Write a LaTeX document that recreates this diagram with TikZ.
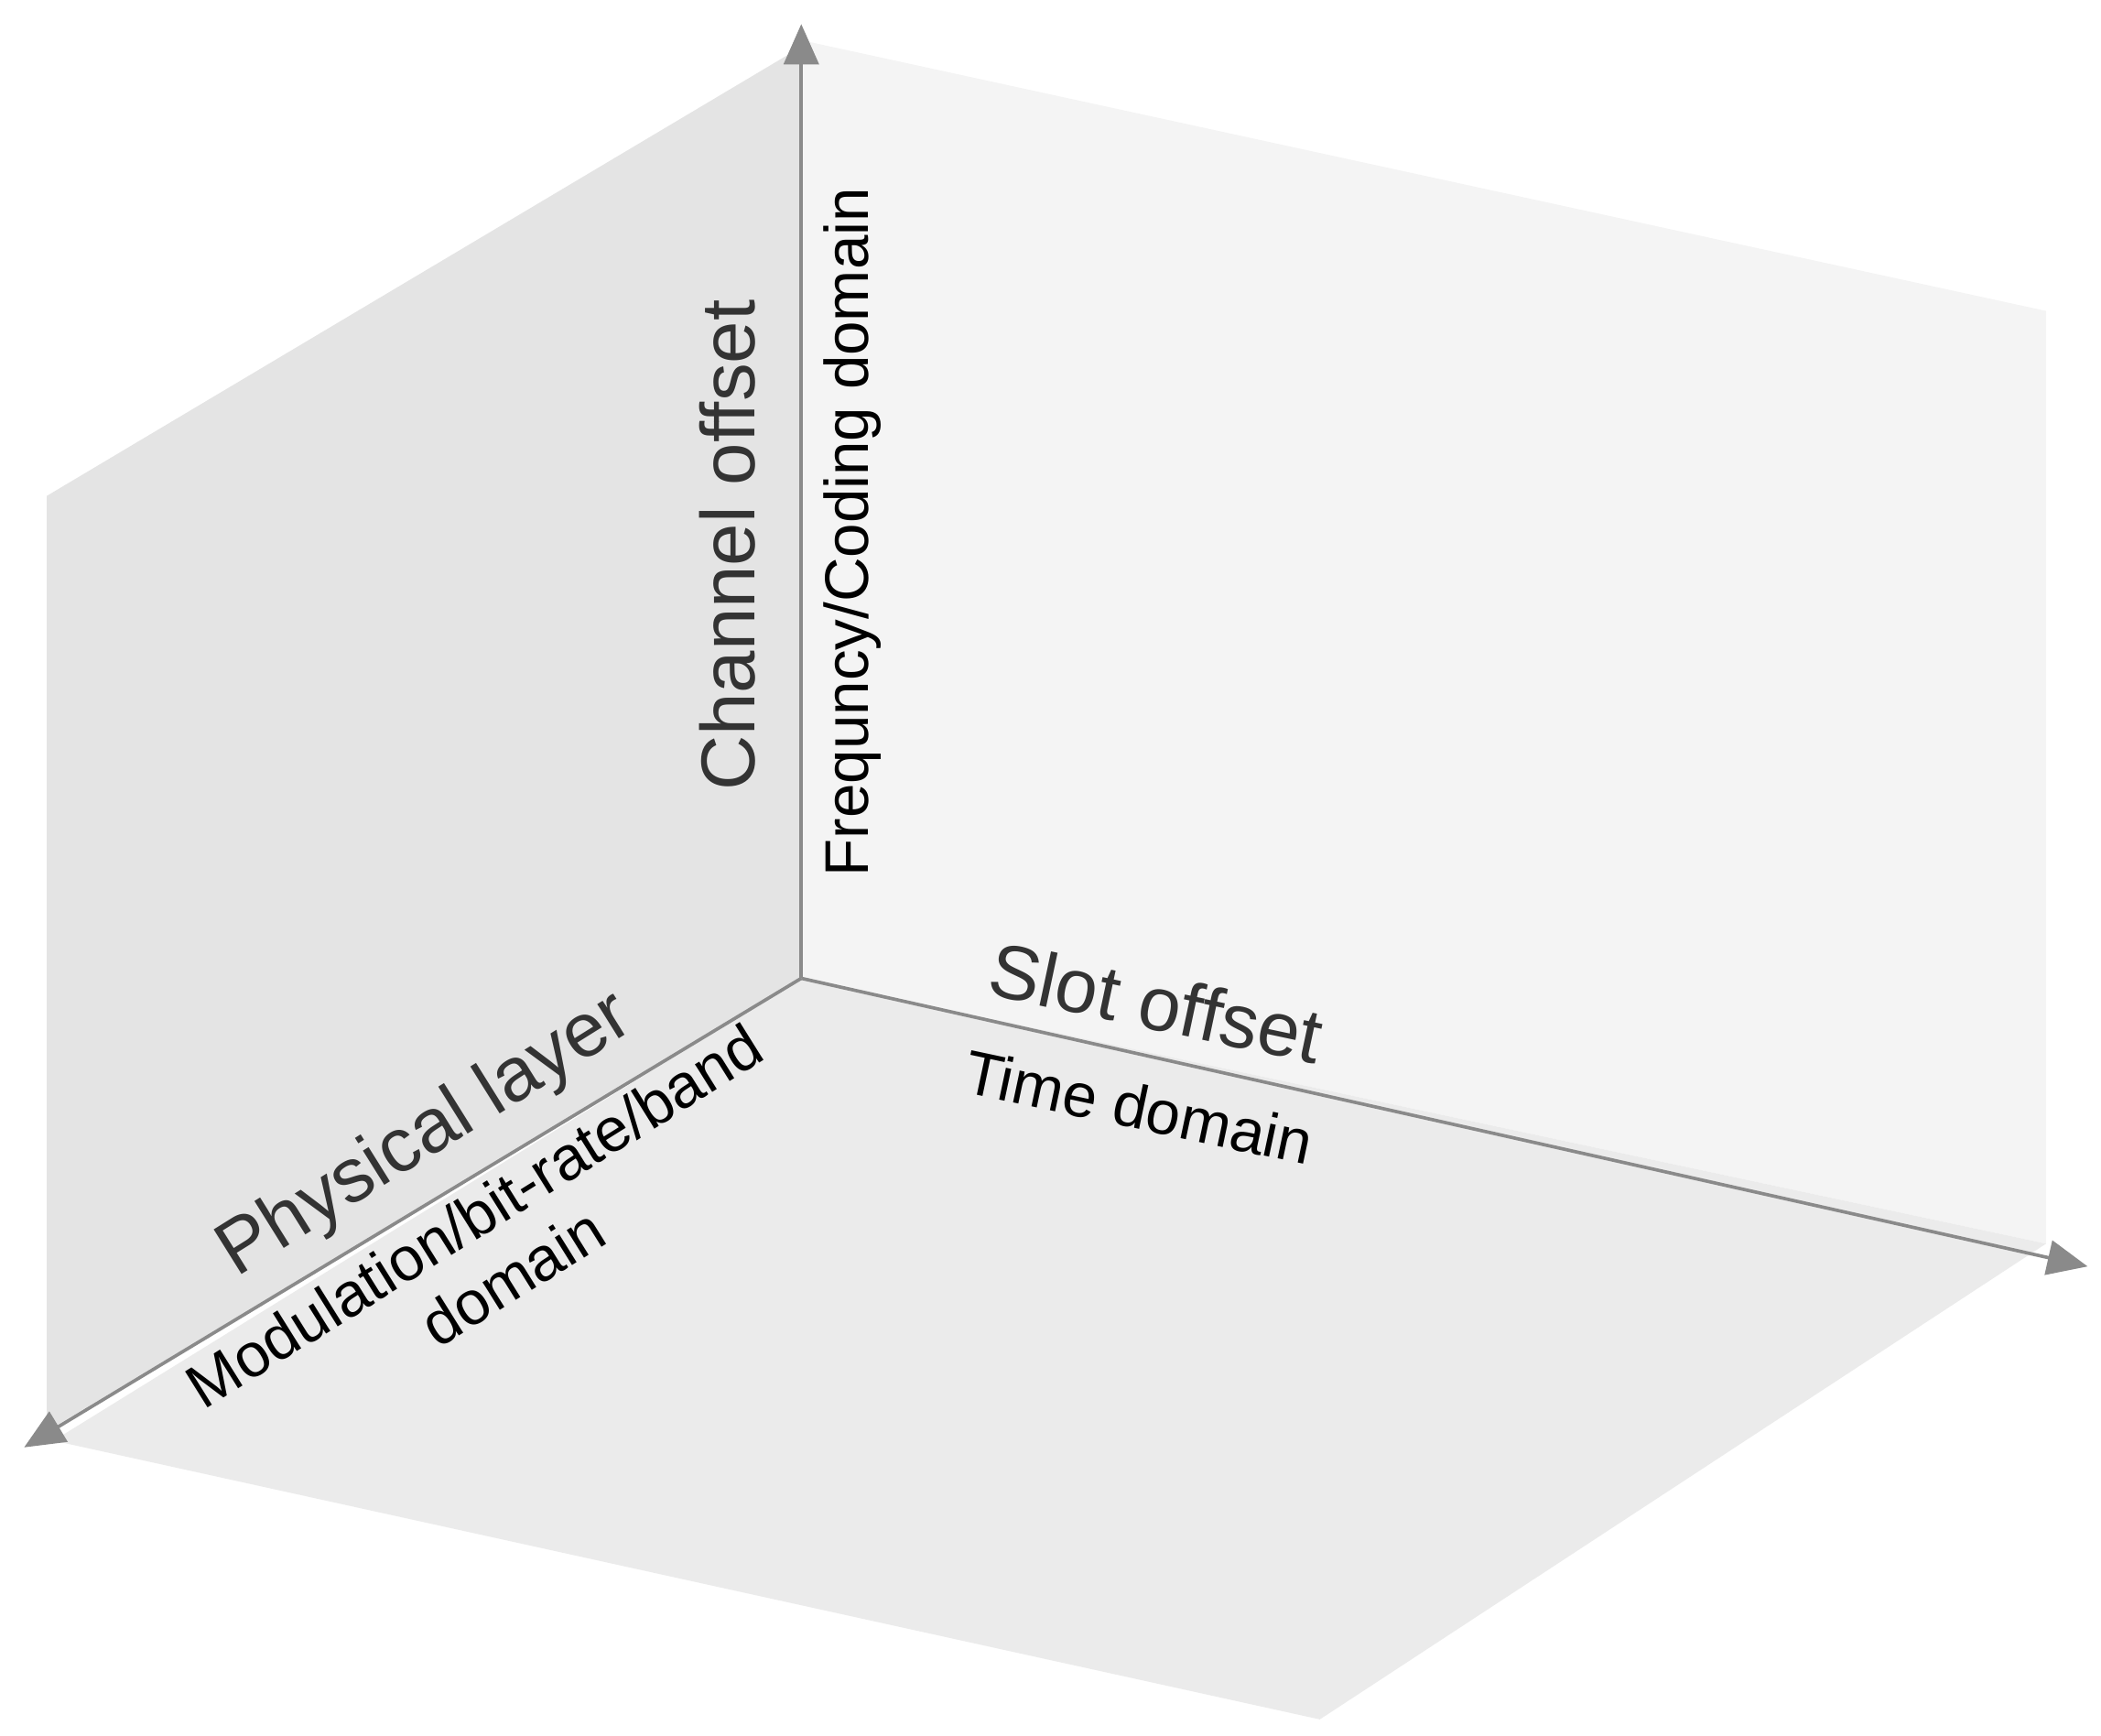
\documentclass[tikz,border=0pt]{standalone}
\usepackage{fontspec}
\setmainfont{Liberation Sans}
\usetikzlibrary{arrows.meta}
\definecolor{wallL}{HTML}{E4E4E4}
\definecolor{wallB}{HTML}{F4F4F4}
\definecolor{floorC}{HTML}{EBEBEB}
\definecolor{axisC}{HTML}{8A8A8A}

\begin{document}
\begin{tikzpicture}[x=1pt,y=-1pt,
                    axis/.style={draw=axisC,line width=2.5pt,-{Triangle[length=30pt,width=26pt]}},
                    big/.style={font=\fontsize{57}{64}\selectfont,text=black!80,inner sep=1pt},
                    small/.style={font=\fontsize{46}{54}\selectfont,align=center,inner sep=1pt}]
  \useasboundingbox (0,0) rectangle (1568,1295);
  \coordinate (O) at (598,730);
  \coordinate (T) at (598,18);
  \coordinate (R) at (1558,945);
  \coordinate (L) at (18,1080);

  % faces
  \fill[wallL]  (O) -- (598,35) -- (35,370) -- (35,1068) -- cycle;
  \fill[wallB]  (O) -- (598,30) -- (1527,232) -- (1527,928) -- cycle;
  \fill[floorC] (O) -- (1527,928) -- (985,1283) -- (40,1075) -- cycle;

  % axes
  \draw[axis] (O) -- (T);
  \draw[axis] (O) -- (R);
  \draw[axis] (O) -- (L);

  % labels
  \node[big,rotate=90]    (ch)   at (543,407) {Channel offset};
  \node[small,rotate=90]  (freq) at (636,397) {Frequncy/Coding domain};
  \node[big,rotate=-12]   (slot) at (863,748) {Slot offset};
  \node[small,rotate=-12] (time) at (850,826) {Time domain};
  \node[big,rotate=32]    (phy)  at (318,848) {Physical layer};
  \node[small,rotate=32]  (mod)  at (368,930) {Modulation/bit-rate/band\\domain};
\end{tikzpicture}
\end{document}
